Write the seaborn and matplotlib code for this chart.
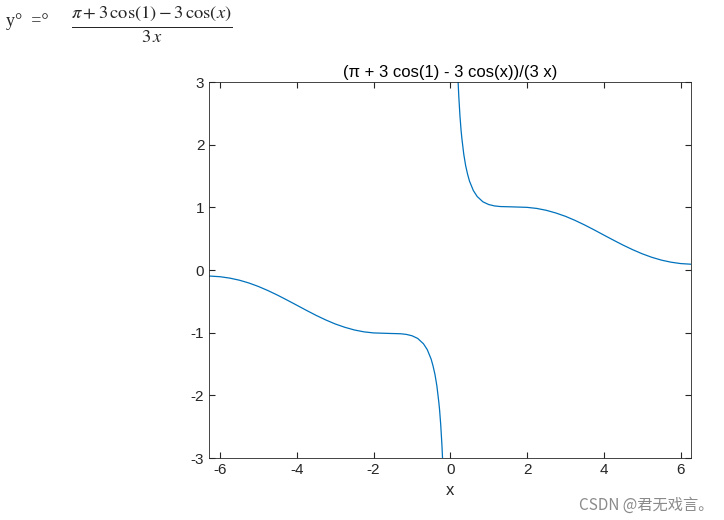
import pandas as pd
import seaborn as sns
import matplotlib
matplotlib.use("Agg")
import matplotlib.pyplot as plt

# points (right branch); left branch mirrors it (odd curve)
x_right = [0.15, 0.18, 0.2, 0.22, 0.25, 0.28, 0.3, 0.35, 0.4, 0.45, 0.5, 0.6, 0.7,
           0.85, 1.0, 1.15, 1.3, 1.6, 2.0, 2.25, 2.5, 2.75, 3.0, 3.25, 3.5, 3.75,
           4.0, 4.25, 4.5, 4.75, 5.0, 5.25, 5.5, 5.75, 6.0, 6.283]
y_right = [3.99, 3.36, 3.04, 2.78, 2.47, 2.23, 2.107, 1.85, 1.666, 1.53, 1.420,
           1.27, 1.175, 1.09, 1.047, 1.025, 1.015, 1.010, 1.002, 0.985, 0.955,
           0.912, 0.859, 0.794, 0.721, 0.642, 0.560, 0.479, 0.400, 0.327, 0.261,
           0.205, 0.160, 0.127, 0.105, 0.094]
x_left = [-v for v in x_right]
y_left = [-v for v in y_right]

sns.set_style("white")
plt.rcParams['font.family'] = ['Liberation Sans', 'Noto Sans CJK SC']
plt.rcParams['axes.unicode_minus'] = False

df = pd.concat([
    pd.DataFrame({"x": x_left, "y": y_left, "branch": "left"}),
    pd.DataFrame({"x": x_right, "y": y_right, "branch": "right"}),
])

fig = plt.figure(figsize=(7.24, 5.2), dpi=100)
ax = fig.add_axes([0.289, 0.119, 0.666, 0.723])
sns.lineplot(data=df, x="x", y="y", units="branch", estimator=None, sort=True,
             color="#0072BD", linewidth=0.9, ax=ax)

ax.set_xlim(-6.283, 6.283)
ax.set_ylim(-3, 3)
ax.set_xticks([-6, -4, -2, 0, 2, 4, 6])
ax.set_yticks([-3, -2, -1, 0, 1, 2, 3])
ax.tick_params(direction="in", length=4, labelsize=11, colors="#262626",
               top=True, right=True, bottom=True, left=True)
for s in ax.spines.values():
    s.set_color("#262626")
    s.set_linewidth(0.6)
ax.set_xlabel("x", fontsize=12, color="#262626")
ax.set_ylabel("")
ax.set_title("(π + 3 cos(1) - 3 cos(x))/(3 x)", fontsize=12, color="#000000", pad=4)

fig.text(0.008, 0.958, "y°  =°", fontsize=13, family="Liberation Serif", va="center")
fig.text(0.098, 0.952, r"$\frac{\pi + 3\,\mathrm{cos}(1) - 3\,\mathrm{cos}(x)}{3\,x}$",
         fontsize=19, va="center", math_fontfamily="stix", fontweight="bold")
fig.text(0.985, 0.02, "CSDN @君无戏言。", fontsize=11, color="#8a8a8a", ha="right",
         family=['Noto Sans CJK SC', 'DejaVu Sans'])

fig.savefig("out.png", dpi=100)
